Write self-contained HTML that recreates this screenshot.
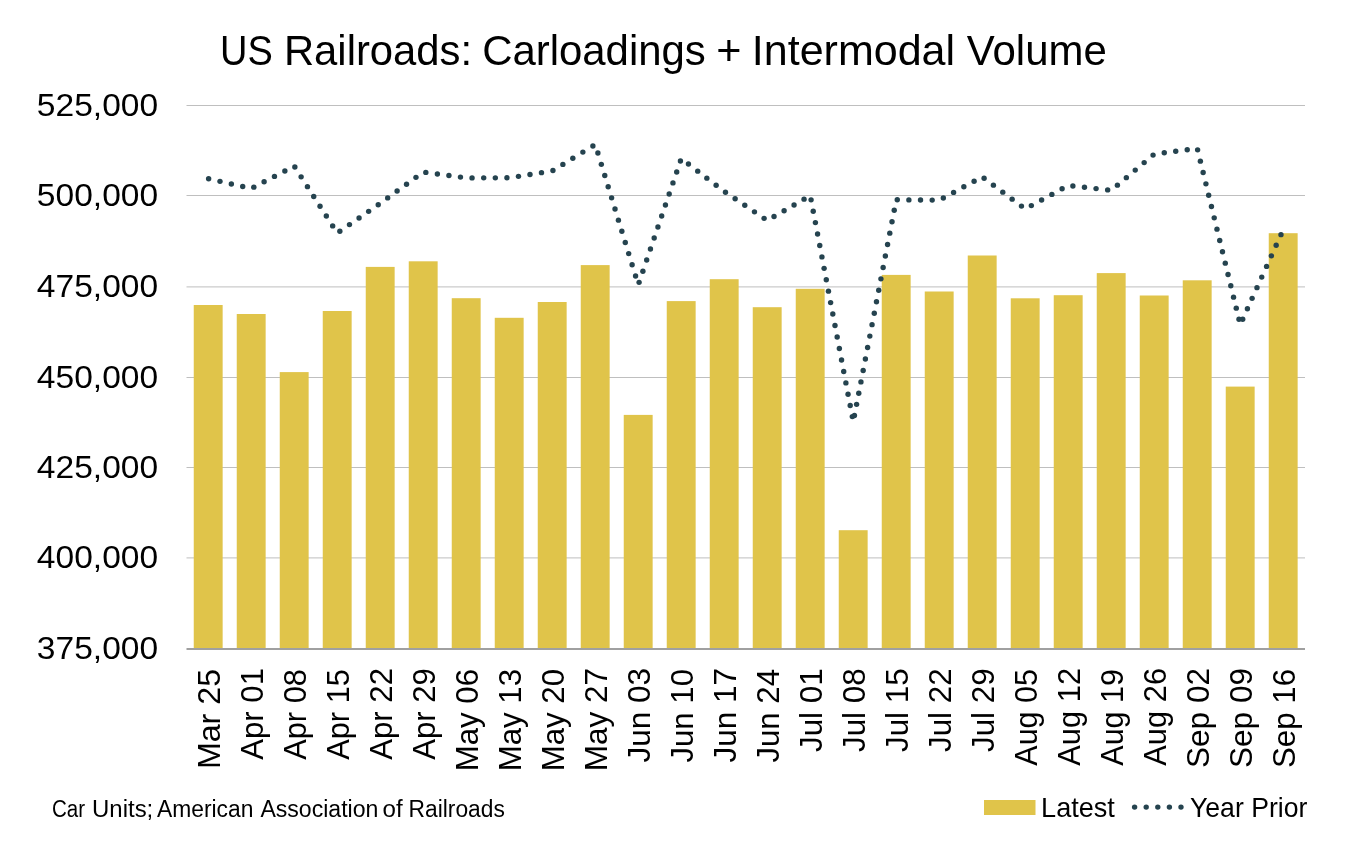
<!DOCTYPE html>
<html><head><meta charset="utf-8"><title>US Railroads: Carloadings + Intermodal Volume</title>
<style>
html,body{margin:0;padding:0;background:#fff;}
body{width:1349px;height:845px;position:relative;overflow:hidden;font-family:"Liberation Sans",sans-serif;}
svg{position:absolute;left:0;top:0;display:block;will-change:transform;}
svg text{font-family:"Liberation Sans",sans-serif;fill:#000;}
</style></head><body>
<svg width="1349" height="845" viewBox="0 0 1349 845"><rect x="186.5" y="105" width="1118.5" height="1" fill="#BFBFBF"/><rect x="186.5" y="195" width="1118.5" height="1" fill="#BFBFBF"/><rect x="186.5" y="286.4" width="1118.5" height="1" fill="#BFBFBF"/><rect x="186.5" y="377" width="1118.5" height="1" fill="#BFBFBF"/><rect x="186.5" y="467" width="1118.5" height="1" fill="#BFBFBF"/><rect x="186.5" y="557.4" width="1118.5" height="1" fill="#BFBFBF"/><rect x="193.75" y="305.0" width="28.9" height="343.0" fill="#E0C44A"/><rect x="236.75" y="314.0" width="28.9" height="334.0" fill="#E0C44A"/><rect x="279.75" y="372.1" width="28.9" height="275.9" fill="#E0C44A"/><rect x="322.75" y="311.0" width="28.9" height="337.0" fill="#E0C44A"/><rect x="365.75" y="266.9" width="28.9" height="381.1" fill="#E0C44A"/><rect x="408.75" y="261.3" width="28.9" height="386.7" fill="#E0C44A"/><rect x="451.75" y="298.2" width="28.9" height="349.8" fill="#E0C44A"/><rect x="494.75" y="317.8" width="28.9" height="330.2" fill="#E0C44A"/><rect x="537.75" y="302.0" width="28.9" height="346.0" fill="#E0C44A"/><rect x="580.75" y="265.1" width="28.9" height="382.9" fill="#E0C44A"/><rect x="623.75" y="414.9" width="28.9" height="233.1" fill="#E0C44A"/><rect x="666.75" y="301.1" width="28.9" height="346.9" fill="#E0C44A"/><rect x="709.75" y="279.2" width="28.9" height="368.8" fill="#E0C44A"/><rect x="752.75" y="307.2" width="28.9" height="340.8" fill="#E0C44A"/><rect x="795.75" y="288.8" width="28.9" height="359.2" fill="#E0C44A"/><rect x="838.75" y="530.2" width="28.9" height="117.8" fill="#E0C44A"/><rect x="881.75" y="274.9" width="28.9" height="373.1" fill="#E0C44A"/><rect x="924.75" y="291.5" width="28.9" height="356.5" fill="#E0C44A"/><rect x="967.75" y="255.5" width="28.9" height="392.5" fill="#E0C44A"/><rect x="1010.75" y="298.3" width="28.9" height="349.7" fill="#E0C44A"/><rect x="1053.75" y="295.2" width="28.9" height="352.8" fill="#E0C44A"/><rect x="1096.75" y="273.1" width="28.9" height="374.9" fill="#E0C44A"/><rect x="1139.75" y="295.5" width="28.9" height="352.5" fill="#E0C44A"/><rect x="1182.75" y="280.3" width="28.9" height="367.7" fill="#E0C44A"/><rect x="1225.75" y="386.6" width="28.9" height="261.4" fill="#E0C44A"/><rect x="1268.75" y="233.2" width="28.9" height="414.8" fill="#E0C44A"/><rect x="186.5" y="648" width="1118.5" height="2" fill="#A0A0A0"/><g fill="#25434F"><circle cx="208.63" cy="178.76" r="2.7"/><circle cx="220.00" cy="181.36" r="2.7"/><circle cx="231.35" cy="183.94" r="2.7"/><circle cx="242.71" cy="186.54" r="2.7"/><circle cx="253.81" cy="187.16" r="2.7"/><circle cx="264.12" cy="181.80" r="2.7"/><circle cx="274.47" cy="176.42" r="2.7"/><circle cx="284.86" cy="171.03" r="2.7"/><circle cx="294.85" cy="167.06" r="2.7"/><circle cx="301.13" cy="176.84" r="2.7"/><circle cx="307.45" cy="186.67" r="2.7"/><circle cx="313.73" cy="196.45" r="2.7"/><circle cx="320.02" cy="206.24" r="2.7"/><circle cx="326.33" cy="216.05" r="2.7"/><circle cx="332.66" cy="225.91" r="2.7"/><circle cx="339.87" cy="231.25" r="2.7"/><circle cx="349.48" cy="224.60" r="2.7"/><circle cx="359.07" cy="217.96" r="2.7"/><circle cx="368.64" cy="211.33" r="2.7"/><circle cx="378.22" cy="204.70" r="2.7"/><circle cx="387.68" cy="197.89" r="2.7"/><circle cx="397.10" cy="191.04" r="2.7"/><circle cx="406.53" cy="184.19" r="2.7"/><circle cx="415.95" cy="177.34" r="2.7"/><circle cx="425.82" cy="172.38" r="2.7"/><circle cx="437.38" cy="173.96" r="2.7"/><circle cx="448.92" cy="175.54" r="2.7"/><circle cx="460.46" cy="177.12" r="2.7"/><circle cx="472.04" cy="177.90" r="2.7"/><circle cx="483.70" cy="177.87" r="2.7"/><circle cx="495.32" cy="177.84" r="2.7"/><circle cx="506.95" cy="177.81" r="2.7"/><circle cx="518.48" cy="176.33" r="2.7"/><circle cx="529.99" cy="174.48" r="2.7"/><circle cx="541.50" cy="172.64" r="2.7"/><circle cx="552.94" cy="170.50" r="2.7"/><circle cx="562.87" cy="164.39" r="2.7"/><circle cx="572.82" cy="158.27" r="2.7"/><circle cx="582.87" cy="152.10" r="2.7"/><circle cx="592.89" cy="145.94" r="2.7"/><circle cx="597.89" cy="153.07" r="2.7"/><circle cx="601.34" cy="164.33" r="2.7"/><circle cx="604.78" cy="175.56" r="2.7"/><circle cx="608.19" cy="186.70" r="2.7"/><circle cx="611.61" cy="197.85" r="2.7"/><circle cx="615.02" cy="208.99" r="2.7"/><circle cx="618.44" cy="220.14" r="2.7"/><circle cx="621.87" cy="231.32" r="2.7"/><circle cx="625.28" cy="242.47" r="2.7"/><circle cx="628.69" cy="253.59" r="2.7"/><circle cx="632.12" cy="264.80" r="2.7"/><circle cx="635.58" cy="276.07" r="2.7"/><circle cx="639.10" cy="282.35" r="2.7"/><circle cx="642.89" cy="271.22" r="2.7"/><circle cx="646.69" cy="260.06" r="2.7"/><circle cx="650.45" cy="249.02" r="2.7"/><circle cx="654.19" cy="238.05" r="2.7"/><circle cx="657.93" cy="227.06" r="2.7"/><circle cx="661.69" cy="216.03" r="2.7"/><circle cx="665.44" cy="205.01" r="2.7"/><circle cx="669.19" cy="194.03" r="2.7"/><circle cx="672.97" cy="182.91" r="2.7"/><circle cx="676.71" cy="171.93" r="2.7"/><circle cx="680.43" cy="161.01" r="2.7"/><circle cx="688.44" cy="164.07" r="2.7"/><circle cx="697.72" cy="171.15" r="2.7"/><circle cx="706.86" cy="178.13" r="2.7"/><circle cx="716.13" cy="185.20" r="2.7"/><circle cx="725.48" cy="192.23" r="2.7"/><circle cx="735.13" cy="198.76" r="2.7"/><circle cx="744.80" cy="205.30" r="2.7"/><circle cx="754.46" cy="211.84" r="2.7"/><circle cx="764.10" cy="218.36" r="2.7"/><circle cx="774.03" cy="216.57" r="2.7"/><circle cx="784.11" cy="210.71" r="2.7"/><circle cx="794.06" cy="204.94" r="2.7"/><circle cx="804.04" cy="199.15" r="2.7"/><circle cx="811.08" cy="199.86" r="2.7"/><circle cx="813.24" cy="211.21" r="2.7"/><circle cx="815.40" cy="222.59" r="2.7"/><circle cx="817.58" cy="234.04" r="2.7"/><circle cx="819.76" cy="245.49" r="2.7"/><circle cx="821.93" cy="256.90" r="2.7"/><circle cx="824.11" cy="268.34" r="2.7"/><circle cx="826.28" cy="279.74" r="2.7"/><circle cx="828.45" cy="291.15" r="2.7"/><circle cx="830.62" cy="302.59" r="2.7"/><circle cx="832.80" cy="314.05" r="2.7"/><circle cx="834.99" cy="325.53" r="2.7"/><circle cx="837.17" cy="337.03" r="2.7"/><circle cx="839.36" cy="348.54" r="2.7"/><circle cx="841.54" cy="360.00" r="2.7"/><circle cx="843.72" cy="371.46" r="2.7"/><circle cx="845.90" cy="382.89" r="2.7"/><circle cx="848.06" cy="394.25" r="2.7"/><circle cx="850.20" cy="405.48" r="2.7"/><circle cx="852.31" cy="416.59" r="2.7"/><circle cx="854.44" cy="415.46" r="2.7"/><circle cx="856.60" cy="404.33" r="2.7"/><circle cx="858.76" cy="393.18" r="2.7"/><circle cx="860.95" cy="381.88" r="2.7"/><circle cx="863.17" cy="370.46" r="2.7"/><circle cx="865.39" cy="358.99" r="2.7"/><circle cx="867.61" cy="347.55" r="2.7"/><circle cx="869.83" cy="336.08" r="2.7"/><circle cx="872.05" cy="324.66" r="2.7"/><circle cx="874.27" cy="313.18" r="2.7"/><circle cx="876.49" cy="301.75" r="2.7"/><circle cx="878.72" cy="290.27" r="2.7"/><circle cx="880.93" cy="278.83" r="2.7"/><circle cx="883.14" cy="267.45" r="2.7"/><circle cx="885.36" cy="255.99" r="2.7"/><circle cx="887.58" cy="244.55" r="2.7"/><circle cx="889.79" cy="233.15" r="2.7"/><circle cx="892.01" cy="221.70" r="2.7"/><circle cx="894.24" cy="210.21" r="2.7"/><circle cx="897.26" cy="199.80" r="2.7"/><circle cx="908.88" cy="199.90" r="2.7"/><circle cx="920.52" cy="200.00" r="2.7"/><circle cx="932.19" cy="200.09" r="2.7"/><circle cx="943.33" cy="197.95" r="2.7"/><circle cx="953.59" cy="192.38" r="2.7"/><circle cx="963.84" cy="186.82" r="2.7"/><circle cx="974.10" cy="181.26" r="2.7"/><circle cx="984.12" cy="178.22" r="2.7"/><circle cx="993.43" cy="185.17" r="2.7"/><circle cx="1002.77" cy="192.15" r="2.7"/><circle cx="1012.13" cy="199.14" r="2.7"/><circle cx="1021.47" cy="206.11" r="2.7"/><circle cx="1031.34" cy="205.62" r="2.7"/><circle cx="1041.60" cy="200.00" r="2.7"/><circle cx="1051.86" cy="194.38" r="2.7"/><circle cx="1062.09" cy="188.78" r="2.7"/><circle cx="1072.88" cy="185.93" r="2.7"/><circle cx="1084.47" cy="187.26" r="2.7"/><circle cx="1096.07" cy="188.59" r="2.7"/><circle cx="1107.66" cy="189.92" r="2.7"/><circle cx="1117.40" cy="185.15" r="2.7"/><circle cx="1126.33" cy="177.63" r="2.7"/><circle cx="1135.25" cy="170.11" r="2.7"/><circle cx="1144.16" cy="162.59" r="2.7"/><circle cx="1153.05" cy="155.10" r="2.7"/><circle cx="1164.26" cy="152.75" r="2.7"/><circle cx="1175.73" cy="151.23" r="2.7"/><circle cx="1187.25" cy="149.70" r="2.7"/><circle cx="1197.62" cy="149.86" r="2.7"/><circle cx="1200.38" cy="161.15" r="2.7"/><circle cx="1203.14" cy="172.49" r="2.7"/><circle cx="1205.92" cy="183.86" r="2.7"/><circle cx="1208.68" cy="195.18" r="2.7"/><circle cx="1211.45" cy="206.51" r="2.7"/><circle cx="1214.21" cy="217.84" r="2.7"/><circle cx="1216.97" cy="229.13" r="2.7"/><circle cx="1219.73" cy="240.47" r="2.7"/><circle cx="1222.50" cy="251.80" r="2.7"/><circle cx="1225.27" cy="263.13" r="2.7"/><circle cx="1228.04" cy="274.49" r="2.7"/><circle cx="1230.80" cy="285.80" r="2.7"/><circle cx="1233.56" cy="297.14" r="2.7"/><circle cx="1236.26" cy="308.17" r="2.7"/><circle cx="1238.97" cy="319.28" r="2.7"/><circle cx="1242.70" cy="319.18" r="2.7"/><circle cx="1247.42" cy="308.75" r="2.7"/><circle cx="1252.12" cy="298.37" r="2.7"/><circle cx="1256.96" cy="287.67" r="2.7"/><circle cx="1261.75" cy="277.09" r="2.7"/><circle cx="1266.59" cy="266.41" r="2.7"/><circle cx="1271.38" cy="255.83" r="2.7"/><circle cx="1276.18" cy="245.23" r="2.7"/><circle cx="1280.97" cy="234.64" r="2.7"/></g><text x="36.89" y="116.00" font-size="30.5" textLength="121.32" lengthAdjust="spacingAndGlyphs">525,000</text><text x="36.89" y="206.00" font-size="30.5" textLength="121.32" lengthAdjust="spacingAndGlyphs">500,000</text><text x="36.89" y="297.40" font-size="30.5" textLength="121.32" lengthAdjust="spacingAndGlyphs">475,000</text><text x="36.89" y="387.80" font-size="30.5" textLength="121.32" lengthAdjust="spacingAndGlyphs">450,000</text><text x="36.89" y="477.90" font-size="30.5" textLength="121.32" lengthAdjust="spacingAndGlyphs">425,000</text><text x="36.89" y="568.40" font-size="30.5" textLength="121.32" lengthAdjust="spacingAndGlyphs">400,000</text><text x="36.89" y="659.40" font-size="30.5" textLength="121.32" lengthAdjust="spacingAndGlyphs">375,000</text><text transform="translate(219.90,769.06) rotate(-90)" font-size="30.5" textLength="100.11" lengthAdjust="spacingAndGlyphs">Mar 25</text><text transform="translate(262.90,759.81) rotate(-90)" font-size="30.5" textLength="91.79" lengthAdjust="spacingAndGlyphs">Apr 01</text><text transform="translate(305.90,759.80) rotate(-90)" font-size="30.5" textLength="90.76" lengthAdjust="spacingAndGlyphs">Apr 08</text><text transform="translate(348.90,759.81) rotate(-90)" font-size="30.5" textLength="90.77" lengthAdjust="spacingAndGlyphs">Apr 15</text><text transform="translate(391.90,759.81) rotate(-90)" font-size="30.5" textLength="91.79" lengthAdjust="spacingAndGlyphs">Apr 22</text><text transform="translate(434.90,759.81) rotate(-90)" font-size="30.5" textLength="91.70" lengthAdjust="spacingAndGlyphs">Apr 29</text><text transform="translate(477.90,771.33) rotate(-90)" font-size="30.5" textLength="102.40" lengthAdjust="spacingAndGlyphs">May 06</text><text transform="translate(520.90,771.33) rotate(-90)" font-size="30.5" textLength="102.40" lengthAdjust="spacingAndGlyphs">May 13</text><text transform="translate(563.90,771.32) rotate(-90)" font-size="30.5" textLength="102.38" lengthAdjust="spacingAndGlyphs">May 20</text><text transform="translate(606.90,771.35) rotate(-90)" font-size="30.5" textLength="103.43" lengthAdjust="spacingAndGlyphs">May 27</text><text transform="translate(649.90,762.58) rotate(-90)" font-size="30.5" textLength="94.55" lengthAdjust="spacingAndGlyphs">Jun 03</text><text transform="translate(692.90,762.57) rotate(-90)" font-size="30.5" textLength="93.53" lengthAdjust="spacingAndGlyphs">Jun 10</text><text transform="translate(735.90,762.59) rotate(-90)" font-size="30.5" textLength="94.56" lengthAdjust="spacingAndGlyphs">Jun 17</text><text transform="translate(778.90,762.57) rotate(-90)" font-size="30.5" textLength="93.53" lengthAdjust="spacingAndGlyphs">Jun 24</text><text transform="translate(821.90,752.07) rotate(-90)" font-size="30.5" textLength="83.80" lengthAdjust="spacingAndGlyphs">Jul 01</text><text transform="translate(864.90,752.07) rotate(-90)" font-size="30.5" textLength="83.80" lengthAdjust="spacingAndGlyphs">Jul 08</text><text transform="translate(907.90,752.07) rotate(-90)" font-size="30.5" textLength="83.80" lengthAdjust="spacingAndGlyphs">Jul 15</text><text transform="translate(950.90,752.07) rotate(-90)" font-size="30.5" textLength="83.80" lengthAdjust="spacingAndGlyphs">Jul 22</text><text transform="translate(993.90,752.07) rotate(-90)" font-size="30.5" textLength="83.80" lengthAdjust="spacingAndGlyphs">Jul 29</text><text transform="translate(1036.90,765.70) rotate(-90)" font-size="30.5" textLength="96.71" lengthAdjust="spacingAndGlyphs">Aug 05</text><text transform="translate(1079.90,765.71) rotate(-90)" font-size="30.5" textLength="97.74" lengthAdjust="spacingAndGlyphs">Aug 12</text><text transform="translate(1122.90,765.70) rotate(-90)" font-size="30.5" textLength="96.71" lengthAdjust="spacingAndGlyphs">Aug 19</text><text transform="translate(1165.90,765.71) rotate(-90)" font-size="30.5" textLength="97.75" lengthAdjust="spacingAndGlyphs">Aug 26</text><text transform="translate(1208.90,768.06) rotate(-90)" font-size="30.5" textLength="100.11" lengthAdjust="spacingAndGlyphs">Sep 02</text><text transform="translate(1251.90,768.06) rotate(-90)" font-size="30.5" textLength="100.13" lengthAdjust="spacingAndGlyphs">Sep 09</text><text transform="translate(1294.90,768.04) rotate(-90)" font-size="30.5" textLength="99.06" lengthAdjust="spacingAndGlyphs">Sep 16</text><text x="220.10" y="65.1" font-size="42.3" textLength="52.82" lengthAdjust="spacingAndGlyphs">US</text><text x="283.88" y="65.1" font-size="42.3" textLength="188.28" lengthAdjust="spacingAndGlyphs">Railroads:</text><text x="482.16" y="65.1" font-size="42.3" textLength="223.67" lengthAdjust="spacingAndGlyphs">Carloadings</text><text x="716.20" y="65.1" font-size="42.3" textLength="25.23" lengthAdjust="spacingAndGlyphs">+</text><text x="751.85" y="65.1" font-size="42.3" textLength="203.26" lengthAdjust="spacingAndGlyphs">Intermodal</text><text x="966.80" y="65.1" font-size="42.3" textLength="140.04" lengthAdjust="spacingAndGlyphs">Volume</text><text x="51.90" y="816.5" font-size="23.5" textLength="33.10" lengthAdjust="spacingAndGlyphs">Car</text><text x="92.06" y="816.5" font-size="23.5" textLength="61.24" lengthAdjust="spacingAndGlyphs">Units;</text><text x="156.98" y="816.5" font-size="23.5" textLength="96.46" lengthAdjust="spacingAndGlyphs">American</text><text x="260.38" y="816.5" font-size="23.5" textLength="118.03" lengthAdjust="spacingAndGlyphs">Association</text><text x="382.52" y="816.5" font-size="23.5" textLength="20.11" lengthAdjust="spacingAndGlyphs">of</text><text x="408.54" y="816.5" font-size="23.5" textLength="96.28" lengthAdjust="spacingAndGlyphs">Railroads</text><rect x="984" y="800" width="51.5" height="15" fill="#E0C44A"/><text x="1041.06" y="816.6" font-size="28" textLength="73.86" lengthAdjust="spacingAndGlyphs">Latest</text><g fill="#25434F"><circle cx="1134.6" cy="807.1" r="2.7"/><circle cx="1146.2" cy="807.1" r="2.7"/><circle cx="1157.8" cy="807.1" r="2.7"/><circle cx="1169.4" cy="807.1" r="2.7"/><circle cx="1181.0" cy="807.1" r="2.7"/></g><text x="1190.00" y="816.6" font-size="28" textLength="117.32" lengthAdjust="spacingAndGlyphs">Year Prior</text></svg>
</body></html>
